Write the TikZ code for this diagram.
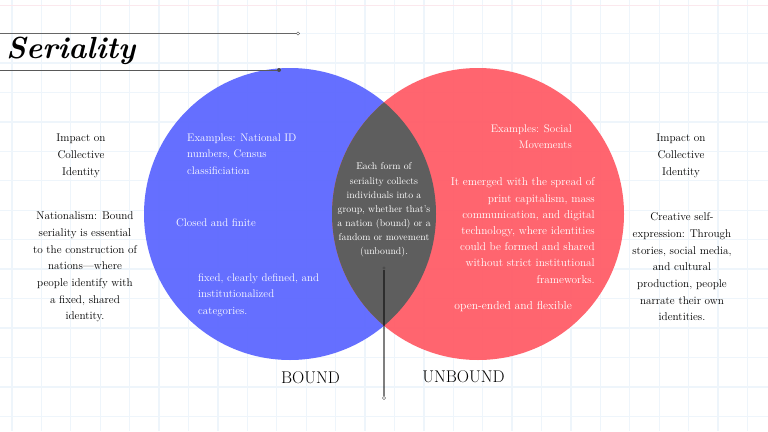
\documentclass[tikz,border=0pt]{standalone}
\usetikzlibrary{calc}
\definecolor{gridblue}{HTML}{EEF5FB}
\definecolor{gridpink}{HTML}{FBE8ED}
\definecolor{boundblue}{HTML}{5F6AFF}
\definecolor{unboundred}{HTML}{FF5F6A}
\definecolor{overlapgray}{HTML}{5E5E5E}
\tikzset{
  sidetext/.style={align=center,font=\fontsize{11.2}{16.7}\selectfont,text=black},
  boundtext/.style={align=left,anchor=west,inner sep=0pt,text=white,font=\fontsize{11}{16.6}\selectfont},
  unboundtext/.style={align=right,anchor=east,inner sep=0pt,text=white,font=\fontsize{11.3}{16.2}\selectfont},
  overlaptext/.style={align=center,text=white,font=\fontsize{9.8}{14.1}\selectfont},
  setlabel/.style={font=\fontsize{17}{20}\selectfont,text=black},
  ruleline/.style={gray!80!black,line width=0.9pt},
  enddot/.style={circle,draw=black!70,fill=white,inner sep=0pt,minimum size=3.4pt},
  enddark/.style={circle,fill=black!70,inner sep=0pt,minimum size=4pt}
}
\begin{document}
\begin{tikzpicture}[x=1pt,y=-1pt]
  \useasboundingbox (0,0) rectangle (768,431);
  \fill[white] (0,0) rectangle (768,431);
  % paper grid
  \foreach \x in {0,...,25} {
    \draw[gridblue,line width=1.3pt] (12+\x*29.42,0) -- (12+\x*29.42,431);
  }
  \foreach \y in {0,...,13} {
    \draw[gridblue,line width=1.3pt] (0,33.5+\y*29.45) -- (768,33.5+\y*29.45);
  }
  \draw[gridpink,line width=1.3pt] (0,5.5) -- (768,5.5);
  % two sets and their overlap
  \coordinate (boundc) at (290,214);
  \coordinate (unboundc) at (478,214);
  \fill[boundblue,opacity=0.96] (boundc) circle (146);
  \fill[unboundred,opacity=0.96] (unboundc) circle (146);
  \begin{scope}
    \clip (boundc) circle (146);
    \fill[overlapgray] (unboundc) circle (146);
  \end{scope}
  % title and its rules
  \node[anchor=west,inner sep=0pt,font=\fontsize{30.5}{36}\selectfont\bfseries\itshape] (title) at (6,51) {Seriality};
  \coordinate (ruleastart) at (0,33.5);
  \node[enddot] (ruleaend) at (298,33.5) {};
  \draw[ruleline] (ruleastart) -- (ruleaend);
  \coordinate (rulebstart) at (0,70);
  \node[enddark] (rulebend) at (279,70) {};
  \draw[black!65,line width=0.9pt] (rulebstart) -- (rulebend);
  % left column
  \node[sidetext] (impactleft) at (81,156) {Impact on\\Collective\\Identity};
  \node[sidetext] (nationalism) at (85,267) {Nationalism: Bound\\seriality is essential\\to the construction of\\nations---where\\people identify with\\a fixed, shared\\identity.};
  % right column
  \node[sidetext] (impactright) at (681,156) {Impact on\\Collective\\Identity};
  \node[sidetext] (creative) at (682,267) {Creative self-\\expression: Through\\stories, social media,\\and cultural\\production, people\\narrate their own\\identities.};
  % bound side
  \node[boundtext] (boundex) at (187,154) {Examples: National ID\\numbers, Census\\classificiation};
  \node[boundtext] (closed) at (176,222.5) {Closed and finite};
  \node[boundtext] (fixed) at (198,295) {fixed, clearly defined, and\\institutionalized\\categories.};
  % unbound side
  \node[unboundtext,font=\fontsize{11}{16.2}\selectfont] (unboundex) at (572,137) {Examples: Social\\Movements};
  \node[unboundtext] (emerged) at (595,230.5) {It emerged with the spread of\\print capitalism, mass\\communication, and digital\\technology, where identities\\could be formed and shared\\without strict institutional\\frameworks.};
  \node[unboundtext,font=\fontsize{11.6}{16.2}\selectfont] (open) at (572,307) {open-ended and flexible};
  % overlap
  \node[overlaptext] (each) at (384,210) {Each form of\\seriality collects\\individuals into a\\group, whether that's\\a nation (bound) or a\\fandom or movement\\(unbound).};
  % stem below the overlap
  \node[enddark,minimum size=3.4pt] (stemtop) at (384,268) {};
  \node[enddot] (stemend) at (384,398) {};
  \draw[black,opacity=0.5,line width=1.1pt] (stemtop) -- (stemend);
  % set labels
  \node[setlabel] (bound) at (310.5,378) {BOUND};
  \node[setlabel] (unbound) at (463.5,376.5) {UNBOUND};
\end{tikzpicture}
\end{document}
